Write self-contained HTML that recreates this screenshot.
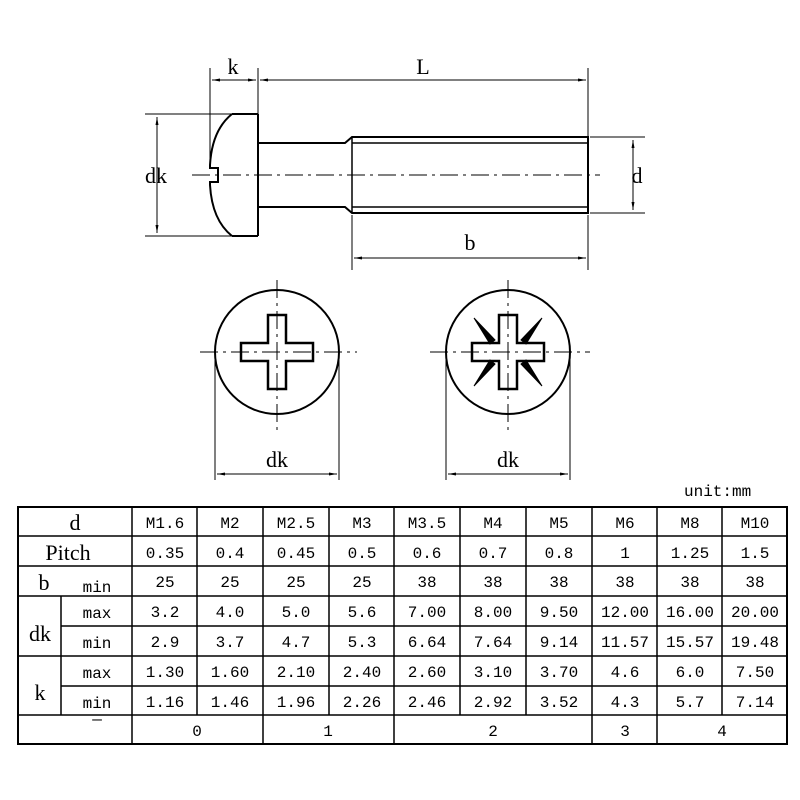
<!DOCTYPE html>
<html><head><style>
body{margin:0;background:#fff;}
svg{display:block}
text{font-family:"Liberation Serif",serif;fill:#000}
.t text, text.t{font-family:"Liberation Mono","Noto Sans CJK SC",monospace;font-size:16px}
.s text{font-size:15px}
</style></head><body>
<svg width="800" height="800" viewBox="0 0 800 800" xmlns="http://www.w3.org/2000/svg">
<defs><marker id="a" markerWidth="8" markerHeight="6" refX="8" refY="3" orient="auto-start-reverse"><path d="M0,1.5 L8,3 L0,4.5z" fill="#000"/></marker></defs>
<g stroke="#000" fill="none">
<path d="M258,114 L258,236 M232,114 L258,114 M232,236 L258,236" stroke-width="2"/>
<path d="M232,114 Q212,130 210,165 L210,168 L218,168 L218,182 L210,182 L210,185 Q212,220 232,236" stroke-width="2"/>
<path d="M258,143 L345,143 L352,137 L588,137 L588,213 L352,213 L345,207 L258,207" stroke-width="2"/>
<path d="M352,137 L352,213 M352,143 L588,143 M352,207 L588,207" stroke-width="1.5"/>
<line x1="192" y1="175" x2="600" y2="175" stroke-dasharray="18,5,3,5" stroke-width="1"/>
<line x1="210" y1="68" x2="210" y2="165" stroke-width="1"/>
<line x1="258" y1="68" x2="258" y2="114" stroke-width="1"/>
<line x1="588" y1="68" x2="588" y2="137" stroke-width="1"/>
<line x1="212" y1="80" x2="256" y2="80" marker-start="url(#a)" marker-end="url(#a)"/>
<line x1="260" y1="80" x2="586" y2="80" marker-start="url(#a)" marker-end="url(#a)"/>
<line x1="145" y1="114" x2="232" y2="114" stroke-width="1"/>
<line x1="145" y1="236" x2="232" y2="236" stroke-width="1"/>
<line x1="157" y1="117" x2="157" y2="233" marker-start="url(#a)" marker-end="url(#a)"/>
<line x1="352" y1="215" x2="352" y2="270" stroke-width="1"/>
<line x1="588" y1="215" x2="588" y2="270" stroke-width="1"/>
<line x1="354" y1="258" x2="586" y2="258" marker-start="url(#a)" marker-end="url(#a)"/>
<line x1="590" y1="137" x2="645" y2="137" stroke-width="1"/>
<line x1="590" y1="213" x2="645" y2="213" stroke-width="1"/>
<line x1="633" y1="140" x2="633" y2="210" marker-start="url(#a)" marker-end="url(#a)"/>
<circle cx="277" cy="352" r="62" stroke-width="2"/>
<path d="M268,315 h18 v28 h27 v18 h-27 v28 h-18 v-28 h-27 v-18 h27z" stroke-width="2.5"/>
<line x1="277" y1="280" x2="277" y2="432" stroke-dasharray="18,5,3,5"/>
<line x1="200" y1="352" x2="357" y2="352" stroke-dasharray="18,5,3,5"/>
<line x1="215" y1="360" x2="215" y2="480"/><line x1="339" y1="360" x2="339" y2="480"/>
<line x1="217" y1="474" x2="337" y2="474" marker-start="url(#a)" marker-end="url(#a)"/>
<circle cx="508" cy="352" r="62" stroke-width="2"/>
<path d="M499,315 h18 v28 h27 v18 h-27 v28 h-18 v-28 h-27 v-18 h27z" stroke-width="2.5"/>
<g fill="#000" stroke-width="1"><path d="M474,318 L495,340 L490,344z M542,318 L521,340 L526,344z M474,386 L495,364 L490,360z M542,386 L521,364 L526,360z"/></g>
<line x1="508" y1="280" x2="508" y2="432" stroke-dasharray="18,5,3,5"/>
<line x1="430" y1="352" x2="590" y2="352" stroke-dasharray="18,5,3,5"/>
<line x1="446" y1="360" x2="446" y2="480"/><line x1="570" y1="360" x2="570" y2="480"/>
<line x1="448" y1="474" x2="568" y2="474" marker-start="url(#a)" marker-end="url(#a)"/>
</g>
<g font-size="22">
<text x="233" y="74" text-anchor="middle">k</text>
<text x="423" y="74" text-anchor="middle">L</text>
<text x="156" y="183" text-anchor="middle">dk</text>
<text x="637" y="183" text-anchor="middle">d</text>
<text x="470" y="250" text-anchor="middle">b</text>
<text x="277" y="467" text-anchor="middle">dk</text>
<text x="508" y="467" text-anchor="middle">dk</text>
</g>
<text class="t" x="684" y="496">unit:mm</text>
<g stroke="#000" stroke-width="1.5">
<rect x="18" y="507" width="769" height="237" fill="none" stroke-width="2"/>
<line x1="18" y1="536" x2="787" y2="536"/><line x1="18" y1="566" x2="787" y2="566"/>
<line x1="18" y1="596" x2="787" y2="596"/><line x1="61" y1="626" x2="787" y2="626"/>
<line x1="18" y1="656" x2="787" y2="656"/><line x1="61" y1="686" x2="787" y2="686"/>
<line x1="18" y1="715" x2="787" y2="715"/>
<line x1="61" y1="596" x2="61" y2="715"/>
<line x1="132" y1="507" x2="132" y2="744"/>
<line x1="197" y1="507" x2="197" y2="715"/><line x1="263" y1="507" x2="263" y2="744"/>
<line x1="329" y1="507" x2="329" y2="715"/><line x1="394" y1="507" x2="394" y2="744"/>
<line x1="460" y1="507" x2="460" y2="715"/><line x1="526" y1="507" x2="526" y2="715"/>
<line x1="592" y1="507" x2="592" y2="744"/><line x1="657" y1="507" x2="657" y2="744"/>
<line x1="722" y1="507" x2="722" y2="715"/>
</g>
<g font-size="22" text-anchor="middle">
<text x="75" y="530">d</text><text x="68" y="560">Pitch</text>
<text x="44" y="590">b</text><text x="40" y="641">dk</text><text x="40" y="700">k</text>
</g>
<g class="t" text-anchor="middle">
<text x="97" y="592">min</text><text x="97" y="618">max</text><text x="97" y="648">min</text>
<text x="97" y="678">max</text><text x="97" y="708">min</text><text x="97" y="724">—</text>
<text x="165" y="528">M1.6</text><text x="230" y="528">M2</text><text x="296" y="528">M2.5</text><text x="362" y="528">M3</text><text x="427" y="528">M3.5</text><text x="493" y="528">M4</text><text x="559" y="528">M5</text><text x="625" y="528">M6</text><text x="690" y="528">M8</text><text x="755" y="528">M10</text>
<text x="165" y="558">0.35</text><text x="230" y="558">0.4</text><text x="296" y="558">0.45</text><text x="362" y="558">0.5</text><text x="427" y="558">0.6</text><text x="493" y="558">0.7</text><text x="559" y="558">0.8</text><text x="625" y="558">1</text><text x="690" y="558">1.25</text><text x="755" y="558">1.5</text>
<text x="165" y="587">25</text><text x="230" y="587">25</text><text x="296" y="587">25</text><text x="362" y="587">25</text><text x="427" y="587">38</text><text x="493" y="587">38</text><text x="559" y="587">38</text><text x="625" y="587">38</text><text x="690" y="587">38</text><text x="755" y="587">38</text>
<text x="165" y="617">3.2</text><text x="230" y="617">4.0</text><text x="296" y="617">5.0</text><text x="362" y="617">5.6</text><text x="427" y="617">7.00</text><text x="493" y="617">8.00</text><text x="559" y="617">9.50</text><text x="625" y="617">12.00</text><text x="690" y="617">16.00</text><text x="755" y="617">20.00</text>
<text x="165" y="647">2.9</text><text x="230" y="647">3.7</text><text x="296" y="647">4.7</text><text x="362" y="647">5.3</text><text x="427" y="647">6.64</text><text x="493" y="647">7.64</text><text x="559" y="647">9.14</text><text x="625" y="647">11.57</text><text x="690" y="647">15.57</text><text x="755" y="647">19.48</text>
<text x="165" y="677">1.30</text><text x="230" y="677">1.60</text><text x="296" y="677">2.10</text><text x="362" y="677">2.40</text><text x="427" y="677">2.60</text><text x="493" y="677">3.10</text><text x="559" y="677">3.70</text><text x="625" y="677">4.6</text><text x="690" y="677">6.0</text><text x="755" y="677">7.50</text>
<text x="165" y="707">1.16</text><text x="230" y="707">1.46</text><text x="296" y="707">1.96</text><text x="362" y="707">2.26</text><text x="427" y="707">2.46</text><text x="493" y="707">2.92</text><text x="559" y="707">3.52</text><text x="625" y="707">4.3</text><text x="690" y="707">5.7</text><text x="755" y="707">7.14</text>
<text x="197" y="736">0</text><text x="328" y="736">1</text><text x="493" y="736">2</text><text x="625" y="736">3</text><text x="722" y="736">4</text>
</g>
</svg>
</body></html>
